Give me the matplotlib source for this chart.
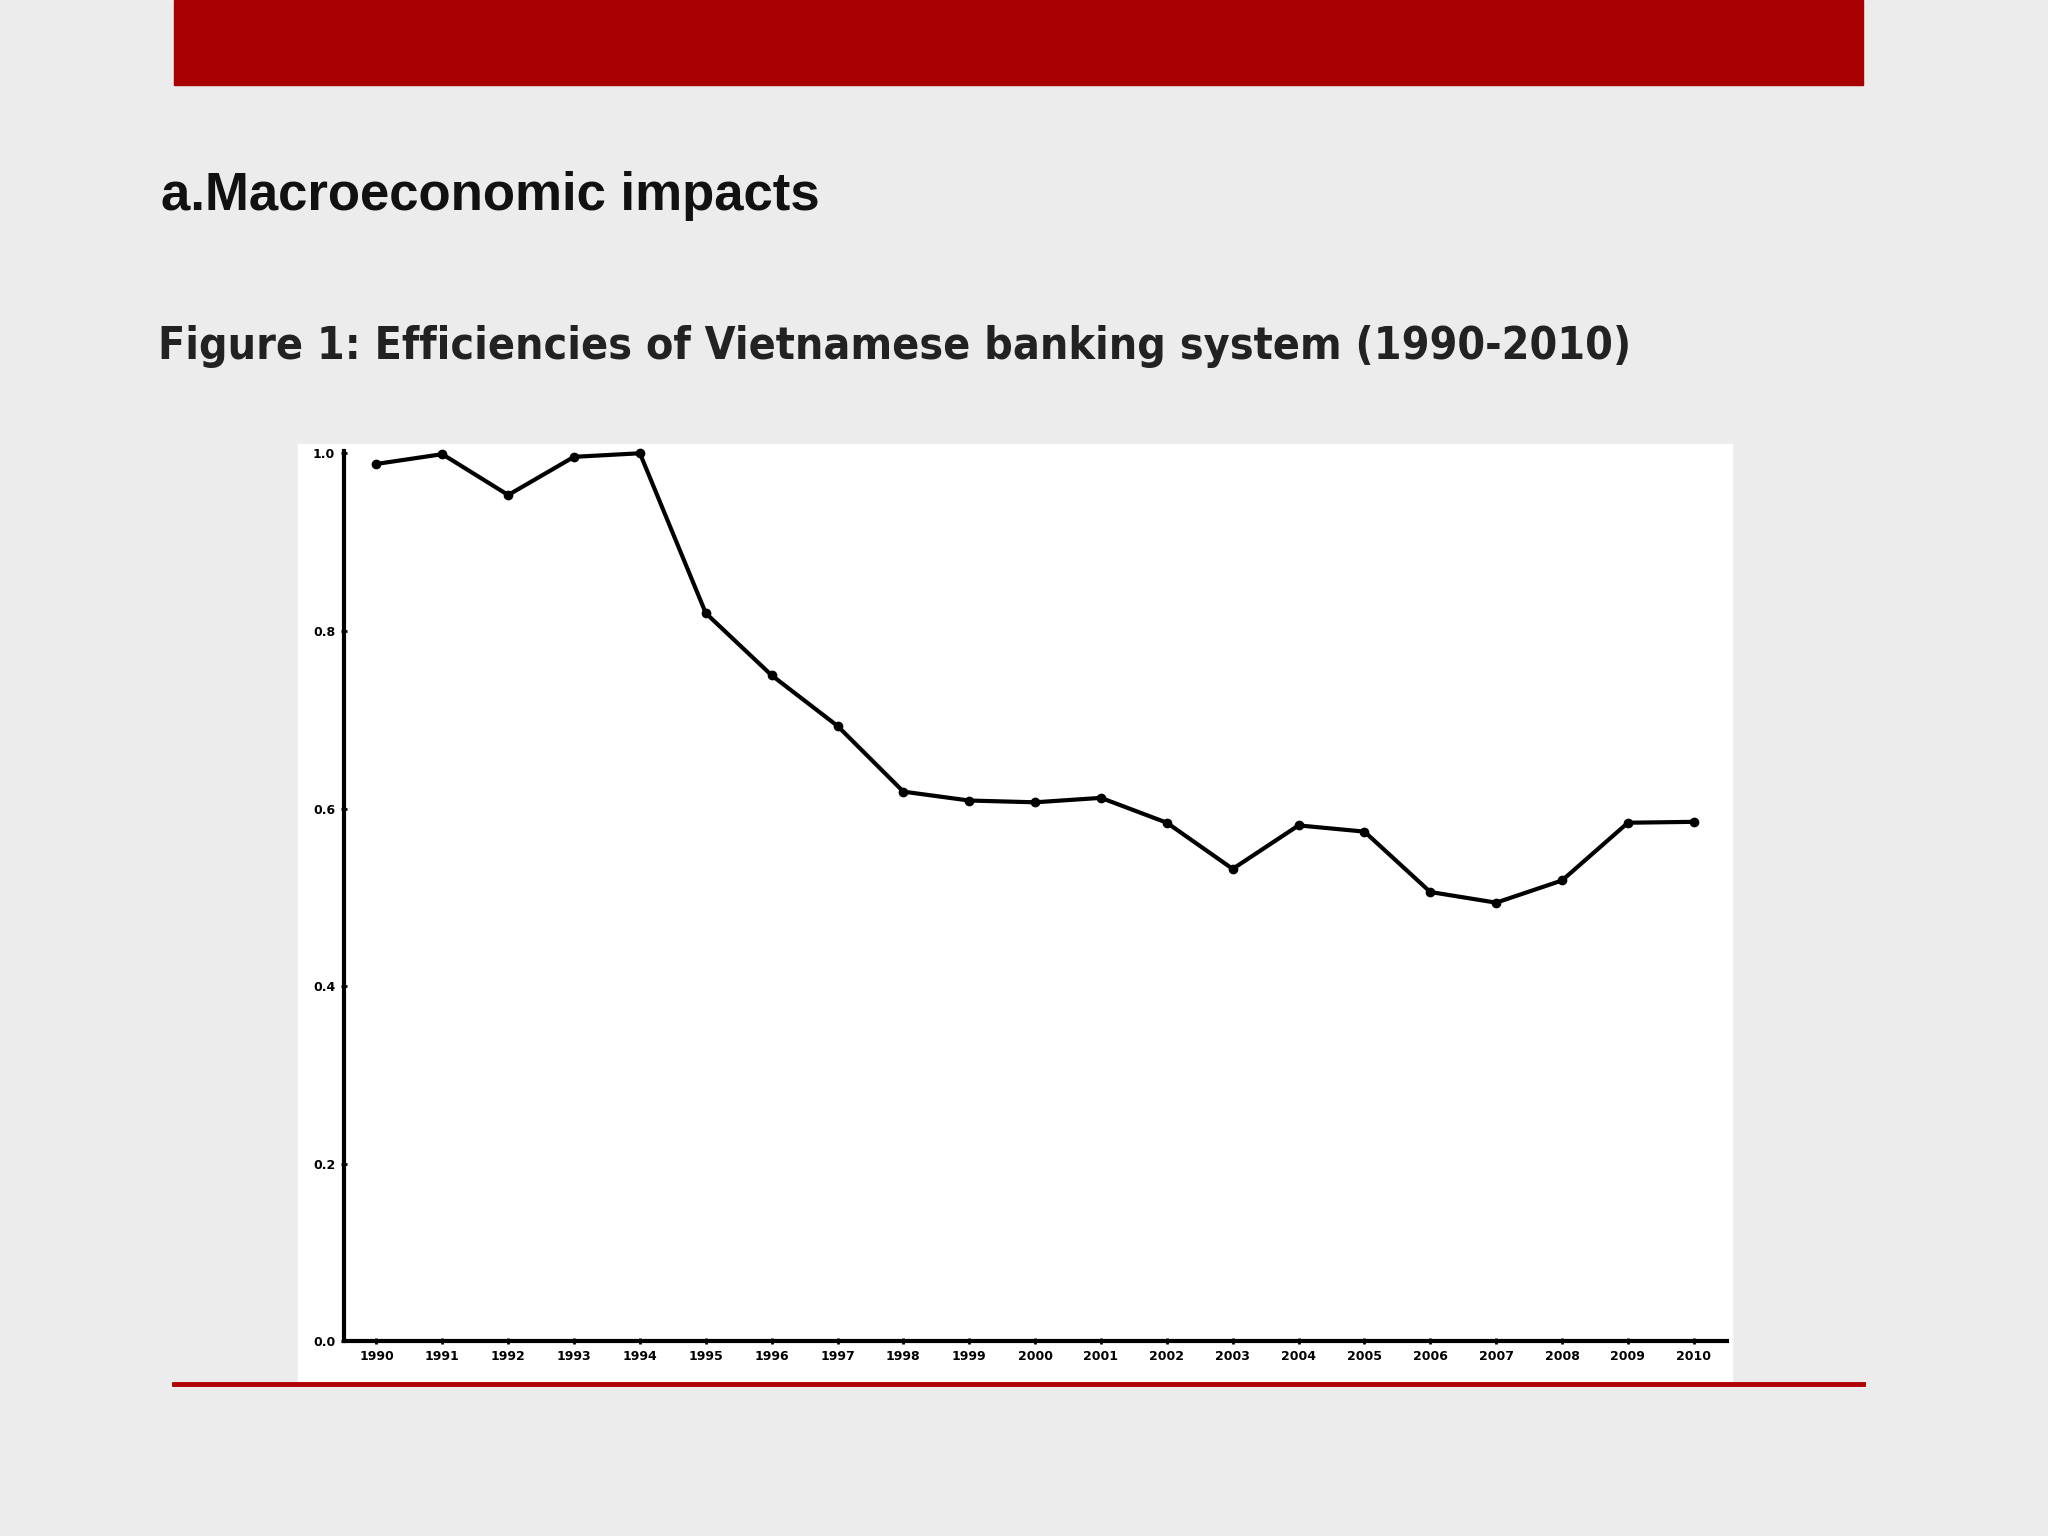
import matplotlib
matplotlib.use("Agg")
import matplotlib.pyplot as plt
from matplotlib.patches import Rectangle
from matplotlib.lines import Line2D

years = list(range(1990, 2011))
efficiency = [0.988, 0.999, 0.953, 0.996, 1.0, 0.82, 0.75, 0.693, 0.619, 0.609, 0.607,
              0.612, 0.584, 0.532, 0.581, 0.574, 0.506, 0.494, 0.519, 0.584, 0.585]
yticks = [0.0, 0.2, 0.4, 0.6, 0.8, 1.0]
ytick_labels = ["0.0", "0.2", "0.4", "0.6", "0.8", "1.0"]

W, H = 1568, 1176
fig = plt.figure(figsize=(20.48, 15.36), dpi=100)
fig.patch.set_facecolor("#ececec")

def fx(x): return x / W
def fy(y): return 1 - y / H

fig.patches.append(Rectangle((fx(133), fy(65)), fx(1426) - fx(133), fy(0) - fy(65),
                             transform=fig.transFigure, color="#a80000", zorder=-2))
fig.patches.append(Rectangle((fx(228), fy(1060)), fx(1326) - fx(228), fy(340) - fy(1060),
                             transform=fig.transFigure, color="white", zorder=-2))
fig.lines.append(Line2D([fx(133), fx(1426)], [fy(1060), fy(1060)],
                        transform=fig.transFigure, color="#b00000", lw=3.5, zorder=5))

fig.text(fx(123), fy(150), "a.Macroeconomic impacts", fontsize=38, fontweight="bold",
         color="#111111", va="center", family="Liberation Sans")
fig.text(fx(121), fy(265), "Figure 1: Efficiencies of Vietnamese banking system (1990-2010)",
         fontsize=32, fontweight="bold", color="#222222", va="center",
         family=["DejaVu Sans"], fontstretch="condensed")

ax = fig.add_axes([fx(263), fy(1027), fx(1322) - fx(263), fy(345) - fy(1027)], zorder=3)
ax.patch.set_alpha(0)
ax.plot(years, efficiency, color="black", lw=3, marker="o", markersize=6, clip_on=False)
ax.set_xlim(1989.5, 2010.5)
ax.set_ylim(0, 1.003)
ax.set_xticks(years)
ax.set_xticklabels([str(y) for y in years], fontsize=9, fontweight="bold")
ax.set_yticks(yticks)
ax.set_yticklabels(ytick_labels, fontsize=9, fontweight="bold")
for s in ["top", "right"]:
    ax.spines[s].set_visible(False)
for s in ["left", "bottom"]:
    ax.spines[s].set_linewidth(3)
ax.tick_params(width=2, length=5, direction="inout")

fig.savefig("out.png", dpi=100, facecolor=fig.get_facecolor())
